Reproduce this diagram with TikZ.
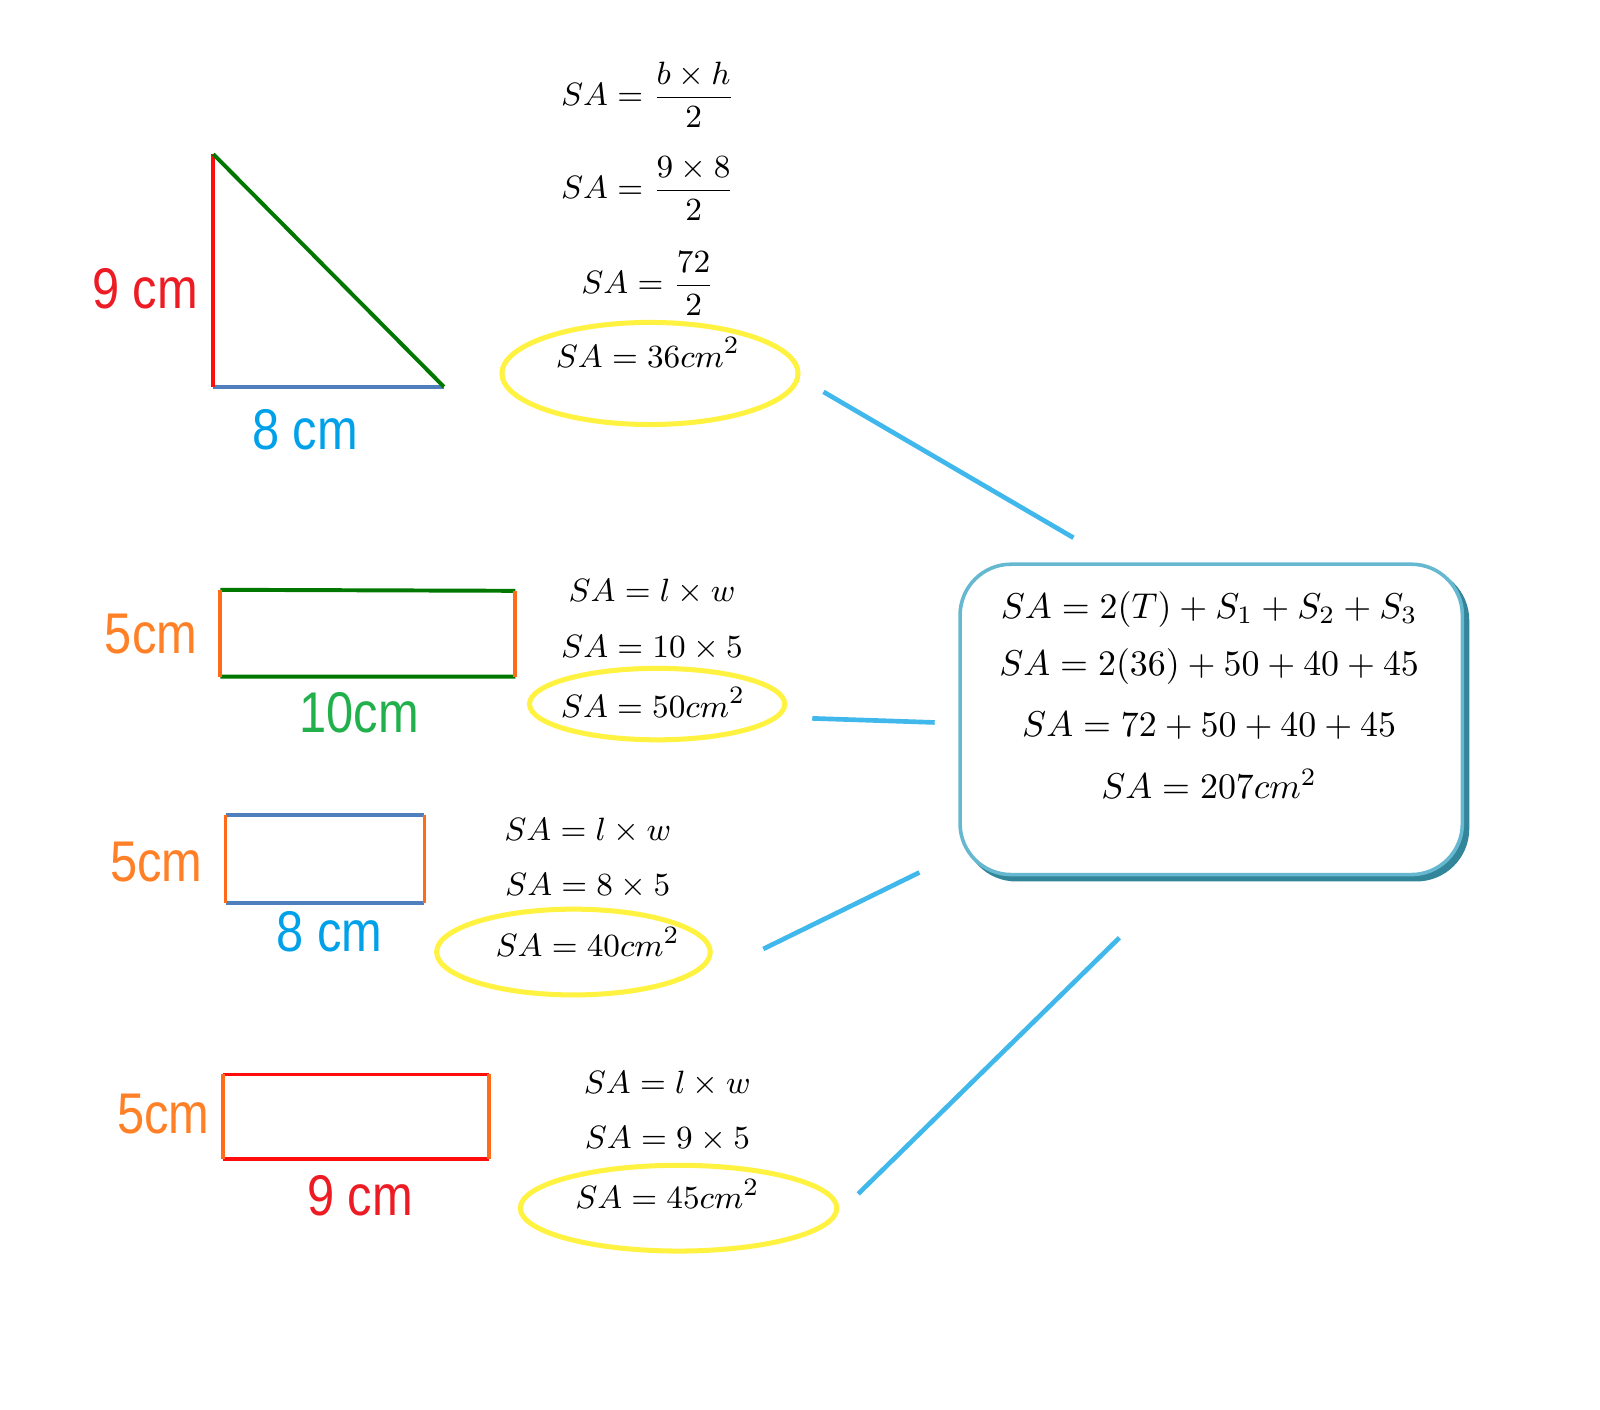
\documentclass[tikz,border=0pt]{standalone}
\usepackage{amsmath, amssymb}
\usepackage{fontspec}
\usepackage{tikz}
\usetikzlibrary{shapes.geometric}
\usetikzlibrary{shadows}
\newfontfamily\cotefont[FakeStretch=0.85]{Liberation Sans}
\definecolor{crouge}{rgb}{1, 0.05, 0.05}
\definecolor{crougetxt}{rgb}{0.93, 0.11, 0.14}
\definecolor{cvert}{rgb}{0, 0.47, 0}
\definecolor{cvertclair}{rgb}{0.13, 0.69, 0.3}
\definecolor{cbleu}{rgb}{0.31, 0.5, 0.74}
\definecolor{cciel}{rgb}{0, 0.63, 0.91}
\definecolor{corange}{rgb}{1, 0.42, 0.1}
\definecolor{corangetxt}{rgb}{1, 0.5, 0.15}
\definecolor{cjaune}{rgb}{1, 0.95, 0.25}
\definecolor{clien}{rgb}{0.25, 0.72, 0.92}
\definecolor{cbord}{rgb}{0.4, 0.72, 0.82}
\definecolor{combre}{rgb}{0.2, 0.52, 0.6}

\begin{document}
\begin{tikzpicture}[x=0.01cm, y=-0.01cm, thin]
  \tikzstyle{cote}=[font=\cotefont\fontsize{16}{19}\selectfont, inner sep=0pt]
  \tikzstyle{calc}=[font=\fontsize{9.5}{11}\selectfont, inner sep=0pt]
  \tikzstyle{total}=[font=\fontsize{10.2}{13}\selectfont, inner sep=0pt]
  \tikzstyle{trait}=[line width=1.1pt]
  \tikzstyle{ring}=[ellipse, draw=cjaune, line width=1.4pt, inner sep=0pt]
  \tikzstyle{lien}=[draw=clien, line width=1.3pt]
  \tikzstyle{cadre}=[rectangle, rounded corners=0.5cm, draw=cbord, line width=1pt, fill=white,
    copy shadow={shadow xshift=0.05cm, shadow yshift=-0.05cm, fill=combre, draw=combre}]

  \useasboundingbox (0,0) rectangle (1568,1381);

	% triangle
	\coordinate (T1) at (209,151);
	\coordinate (T2) at (209,379);
	\coordinate (T3) at (435,379);
	\draw[trait, cbleu] (T2) -- (T3);
	\draw[trait, crouge] (T1) -- (T2);
	\draw[trait, cvert] (T1) -- (T3);
	\node[cote, crougetxt] (h0) at (142,283) {9 cm};
	\node[cote, cciel]     (b0) at (299,421) {8 cm};

	\node[calc] (f01) at (635,93)  {$SA=\dfrac{b\times h}{2}$};
	\node[calc] (f02) at (635,185) {$SA=\dfrac{9\times 8}{2}$};
	\node[calc] (f03) at (635,278) {$SA=\dfrac{72}{2}$};
	\node[calc] (f04) at (635,345) {$SA=36cm^2$};
	\node[ring, minimum width=2.9cm, minimum height=1cm] (r0) at (637,366) {};

	% rectangle 10 x 5
	\coordinate (A1) at (216,578);
	\coordinate (B1) at (505,579);
	\coordinate (C1) at (505,663);
	\coordinate (D1) at (216,663);
	\draw[trait, cvert] (A1) -- (B1) (D1) -- (C1);
	\draw[trait, corange] (A1) -- (D1) (B1) -- (C1);
	\node[cote, corangetxt] (h1) at (148,621) {5cm};
	\node[cote, cvertclair] (b1) at (352,698) {10cm};

	\node[calc] (f11) at (639,580) {$SA=l\times w$};
	\node[calc] (f12) at (639,635) {$SA=10\times 5$};
	\node[calc] (f13) at (640,688) {$SA=50cm^2$};
	\node[ring, minimum width=2.5cm, minimum height=0.7cm] (r1) at (644,690) {};

	% rectangle 8 x 5
	\coordinate (A2) at (221,799);
	\coordinate (B2) at (416,799);
	\coordinate (C2) at (416,885);
	\coordinate (D2) at (221,885);
	\draw[trait, cbleu] (A2) -- (B2) (D2) -- (C2);
	\draw[trait, corange] (A2) -- (D2) (B2) -- (C2);
	\node[cote, corangetxt] (h2) at (153,845) {5cm};
	\node[cote, cciel]      (b2) at (323,913) {8 cm};

	\node[calc] (f21) at (576,814) {$SA=l\times w$};
	\node[calc] (f22) at (576,868) {$SA=8\times 5$};
	\node[calc] (f23) at (576,923) {$SA=40cm^2$};
	\node[ring, minimum width=2.68cm, minimum height=0.84cm] (r2) at (562,933) {};

	% rectangle 9 x 5
	\coordinate (A3) at (219,1053);
	\coordinate (B3) at (479,1053);
	\coordinate (C3) at (479,1136);
	\coordinate (D3) at (219,1136);
	\draw[trait, crouge] (A3) -- (B3) (D3) -- (C3);
	\draw[trait, corange] (A3) -- (D3) (B3) -- (C3);
	\node[cote, corangetxt] (h3) at (160,1092) {5cm};
	\node[cote, crougetxt]  (b3) at (353,1172) {9 cm};

	\node[calc] (f31) at (654,1062) {$SA=l\times w$};
	\node[calc] (f32) at (654,1116) {$SA=9\times 5$};
	\node[calc] (f33) at (654,1170) {$SA=45cm^2$};
	\node[ring, minimum width=3.1cm, minimum height=0.84cm] (r3) at (665,1184) {};

	% total
	\node[cadre, minimum width=4.92cm, minimum height=3.04cm] (somme) at (1187,705) {};
	\node[total] (s1) at (1185,597) {$SA=2(T)+S_1+S_2+S_3$};
	\node[total] (s2) at (1185,653) {$SA=2(36)+50+40+45$};
	\node[total] (s3) at (1185,711) {$SA=72+50+40+45$};
	\node[total] (s4) at (1185,768) {$SA=207cm^2$};

	\coordinate (l0a) at (807,384);  \coordinate (l0b) at (1052,527);
	\coordinate (l1a) at (796,704);  \coordinate (l1b) at (916,708);
	\coordinate (l2a) at (748,930);  \coordinate (l2b) at (901,855);
	\coordinate (l3a) at (841,1170); \coordinate (l3b) at (1097,919);
	\draw[lien] (l0a) -- (l0b) (l1a) -- (l1b) (l2a) -- (l2b) (l3a) -- (l3b);

\end{tikzpicture}
\end{document}
